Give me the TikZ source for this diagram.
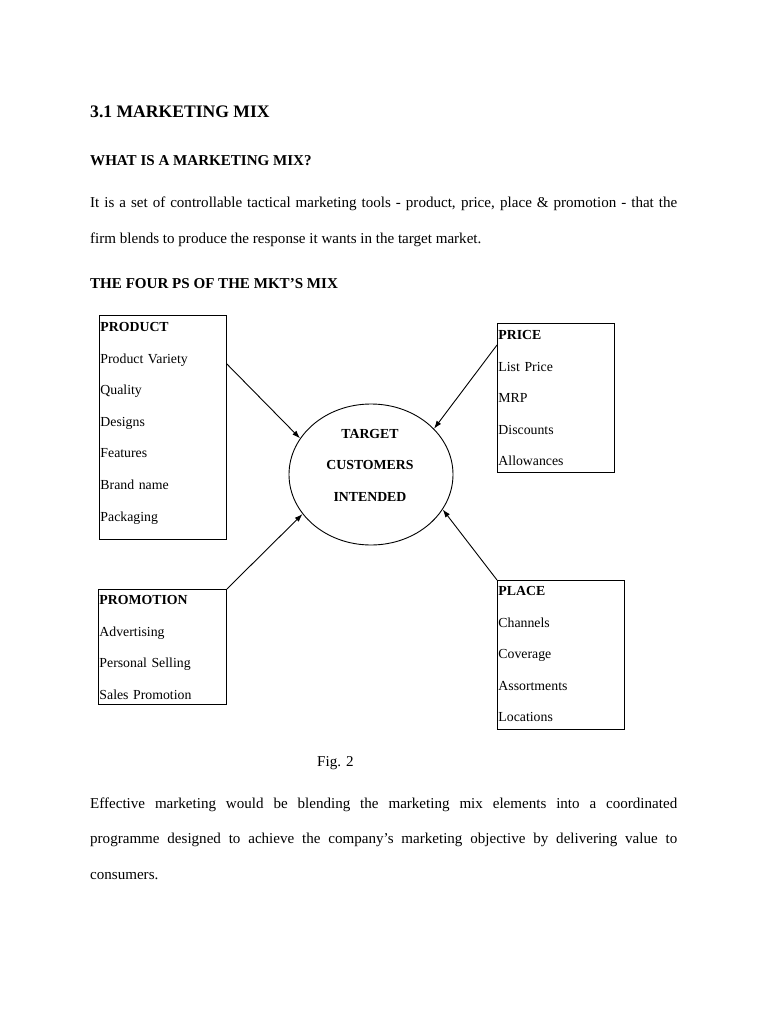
\documentclass[tikz,border=0pt]{standalone}
\usepackage{fontspec}
\setmainfont{Liberation Serif}
\usetikzlibrary{arrows.meta,shapes.geometric}

\tikzset{
    bodytext/.style={anchor=base west, inner sep=0pt, font=\fontsize{15.06}{35.5}\selectfont},
    headtext/.style={anchor=base west, inner sep=0pt, font=\bfseries\fontsize{15.06}{18}\selectfont},
    mixbox/.style={draw, line width=0.9pt, anchor=north west, align=left, inner xsep=1pt, inner ysep=0pt, font=\fontsize{13.8}{31.6}\selectfont},
    hub/.style={draw, ellipse, line width=0.9pt, minimum width=164pt, minimum height=141pt, inner sep=0pt},
    feed/.style={-{Latex[length=8pt,width=5.5pt]}, line width=0.9pt},
}

\begin{document}
\begin{tikzpicture}[x=1pt, y=-1pt]
        \useasboundingbox (0,0) rectangle (768,1024);
        \fill[white] (0,0) rectangle (768,1024);
        \node[anchor=base west, inner sep=0pt, font=\bfseries\fontsize{17.6}{20}\selectfont] (title) at (90,118) {3.1 MARKETING MIX};
        \node[headtext] (question) at (90,166) {WHAT IS A MARKETING MIX?};
        \node[bodytext, text width=587pt, align=justify] (intro) at (90,208)
            {It is a set of controllable tactical marketing tools - product, price, place \& promotion - that the\linebreak firm blends to produce the response it wants in the target market.};
        \node[headtext] (fourps) at (90,288) {THE FOUR PS OF THE MKT’S MIX};

        \node[mixbox, text width=125pt, text height=16pt, text depth=208pt] (product) at (99,315)
            {\textbf{PRODUCT}\\Product Variety\\Quality\\Designs\\Features\\Brand name\\Packaging};
        \node[mixbox, text width=115pt, text height=16pt, text depth=133pt] (price) at (497,323)
            {\textbf{PRICE}\\List Price\\MRP\\Discounts\\Allowances};
        \node[mixbox, text width=126pt, text height=15pt, text depth=100pt] (promotion) at (98,589)
            {\textbf{PROMOTION}\\Advertising\\Personal Selling\\Sales Promotion};
        \node[mixbox, text width=125pt, text height=15pt, text depth=134pt] (place) at (497,580)
            {\textbf{PLACE}\\Channels\\Coverage\\Assortments\\Locations};

        \node[hub] (target) at (371,474.5) {};
        \node[anchor=base, inner sep=0pt, text width=160pt, align=center, font=\bfseries\fontsize{13.8}{31.5}\selectfont] (targetlabel) at (370,438)
            {TARGET\\CUSTOMERS\\INTENDED};

        \draw[feed] (product.east |- 0,364) -- (target.153.7);
        \draw[feed] (price.west |- 0,345) -- (target.36.6);
        \draw[feed] (place.north west) -- (target.334.4);
        \draw[feed] (promotion.north east) -- (target.210.4);

        \node[bodytext] (fig) at (317,766) {Fig. 2};
        \node[bodytext, text width=587pt, align=justify] (closing) at (90,808)
            {Effective marketing would be blending the marketing mix elements into a coordinated\linebreak programme designed to achieve the company’s marketing objective by delivering value to\linebreak consumers.};
\end{tikzpicture}
\end{document}
